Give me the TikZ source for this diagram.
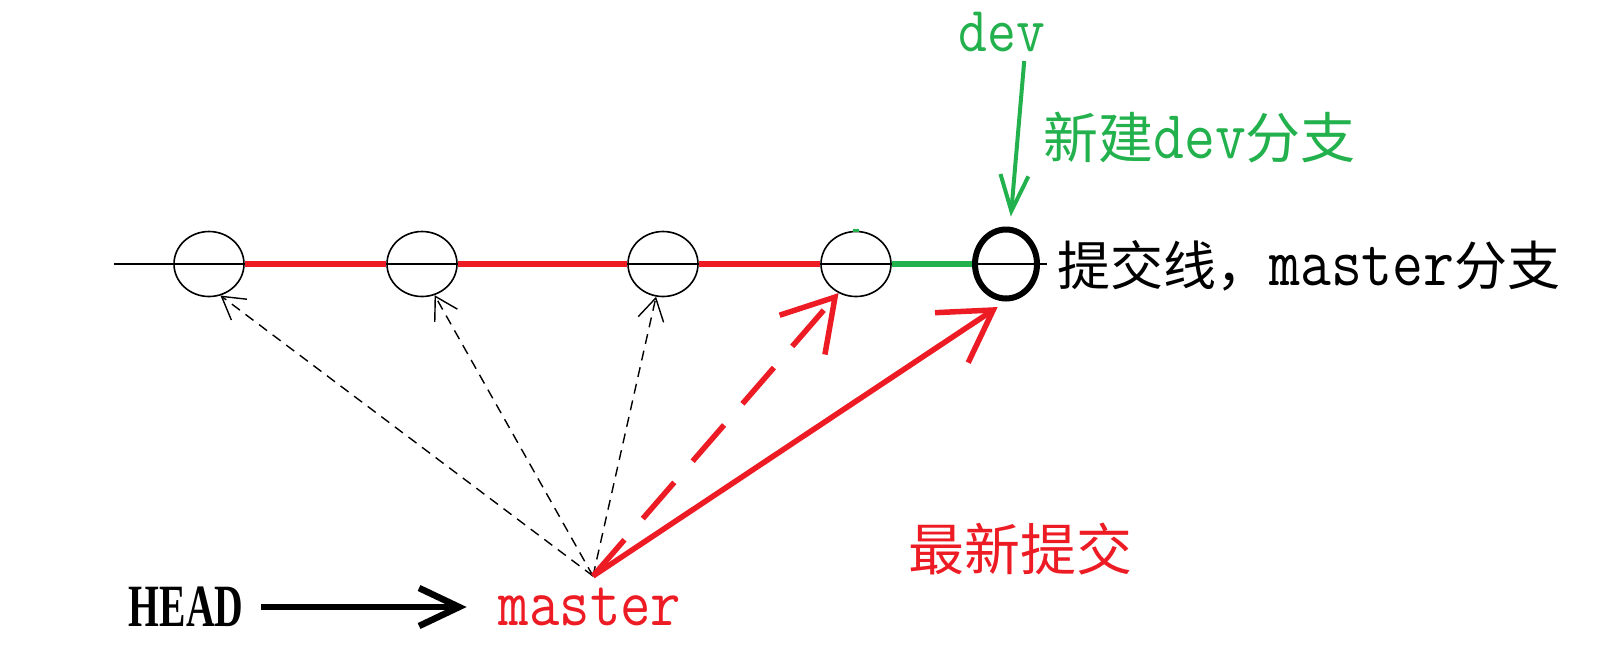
\documentclass[tikz,border=0pt]{standalone}
\usepackage{fontspec}
\usepackage{graphicx}
\setmainfont{Liberation Serif}
\newfontfamily\cjk{Noto Sans CJK SC}
\newcommand{\mw}[2]{{\fontsize{#1}{#1}\selectfont\ttfamily\scalebox{1}[1.15]{#2}}}
\usetikzlibrary{arrows.meta,shapes.geometric}
\definecolor{pred}{RGB}{237,28,36}
\definecolor{pgreen}{RGB}{34,177,76}
\tikzset{
  commit/.style={draw=black, line width=1.6pt, ellipse, minimum width=70pt, minimum height=65pt, inner sep=0pt},
  headcommit/.style={draw=black, line width=6pt, ellipse, minimum width=62pt, minimum height=69pt, inner sep=0pt},
  redseg/.style={pred, line width=6pt},
  greenseg/.style={pgreen, line width=6pt},
  ptr/.style={black, line width=1.4pt, dash pattern=on 10pt off 7pt, -{Straight Barb[length=22pt,width=26pt]}},
  bigred/.style={pred, line width=5.5pt, -{Straight Barb[length=50pt,width=60pt]}},
  lbl/.style={inner sep=0pt, anchor=center},
}
\begin{document}
\begin{tikzpicture}[x=1pt,y=-1pt]
\useasboundingbox (0,0) rectangle (1624,657);
% main commit line
\coordinate (L) at (114,264);
\coordinate (R) at (1047,264);
\draw[black, line width=1.6pt] (L) -- (R);
% commits
\node[commit] (c1) at (209,264) {};
\node[commit] (c2) at (422,264) {};
\node[commit] (c3) at (663,264) {};
\node[commit] (c4) at (856,264) {};
\node[headcommit] (c5) at (1006,264) {};
% coloured segments
\draw[redseg] (c1.east) -- (c2.west);
\draw[redseg] (c2.east) -- (c3.west);
\draw[redseg] (c3.east) -- (c4.west);
\draw[greenseg] (c4.east) -- (c5.west);
\draw[pgreen, line width=3.5pt] ([xshift=-3pt]c4.north) -- ([xshift=3pt]c4.north);
% labels
\node[lbl, text=pgreen] (dev) at (1002,32) {\mw{56}{dev}};
\node[lbl, text=pgreen, anchor=west] (newdev) at (1043,138) {\fontsize{55}{55}\selectfont{\cjk 新建}\mw{60}{dev}{\cjk 分支}};
\node[lbl, text=black, anchor=west] (line) at (1057,266) {\fontsize{53}{53}\selectfont{\cjk 提交线，}\mw{60}{master}{\cjk 分支}};
\node[lbl, text=pred] (latest) at (1020,549) {\fontsize{56}{56}\selectfont\cjk 最新提交};
\node[lbl, text=black] (head) at (186,607) {\fontsize{60}{60}\selectfont\bfseries\scalebox{0.66}[1]{HEAD}};
\node[lbl, text=pred] (master) at (590,607) {\mw{59}{master}};
\coordinate (O) at (593,576);
% HEAD -> master
\draw[black, line width=6.5pt, -{Straight Barb[length=40pt,width=38pt]}, shorten <=18pt, shorten >=32pt] (head.east) -- (master.west);
% dev pointer
\draw[pgreen, line width=4pt, -{Straight Barb[length=36pt,width=28pt]}, shorten <=9pt, shorten >=10pt] ([xshift=23pt]dev.south) -- ([xshift=4pt]c5.north);
% history pointers
\draw[ptr] (O) -- (c1.290);
\draw[ptr] (O) -- (c2.292);
\draw[ptr] (O) -- (c3.258);
\draw[bigred, dash pattern=on 48pt off 28pt] (O) -- (c4.239);
\draw[bigred, shorten >=10pt] (O) -- (c5.south);
\end{tikzpicture}
\end{document}
